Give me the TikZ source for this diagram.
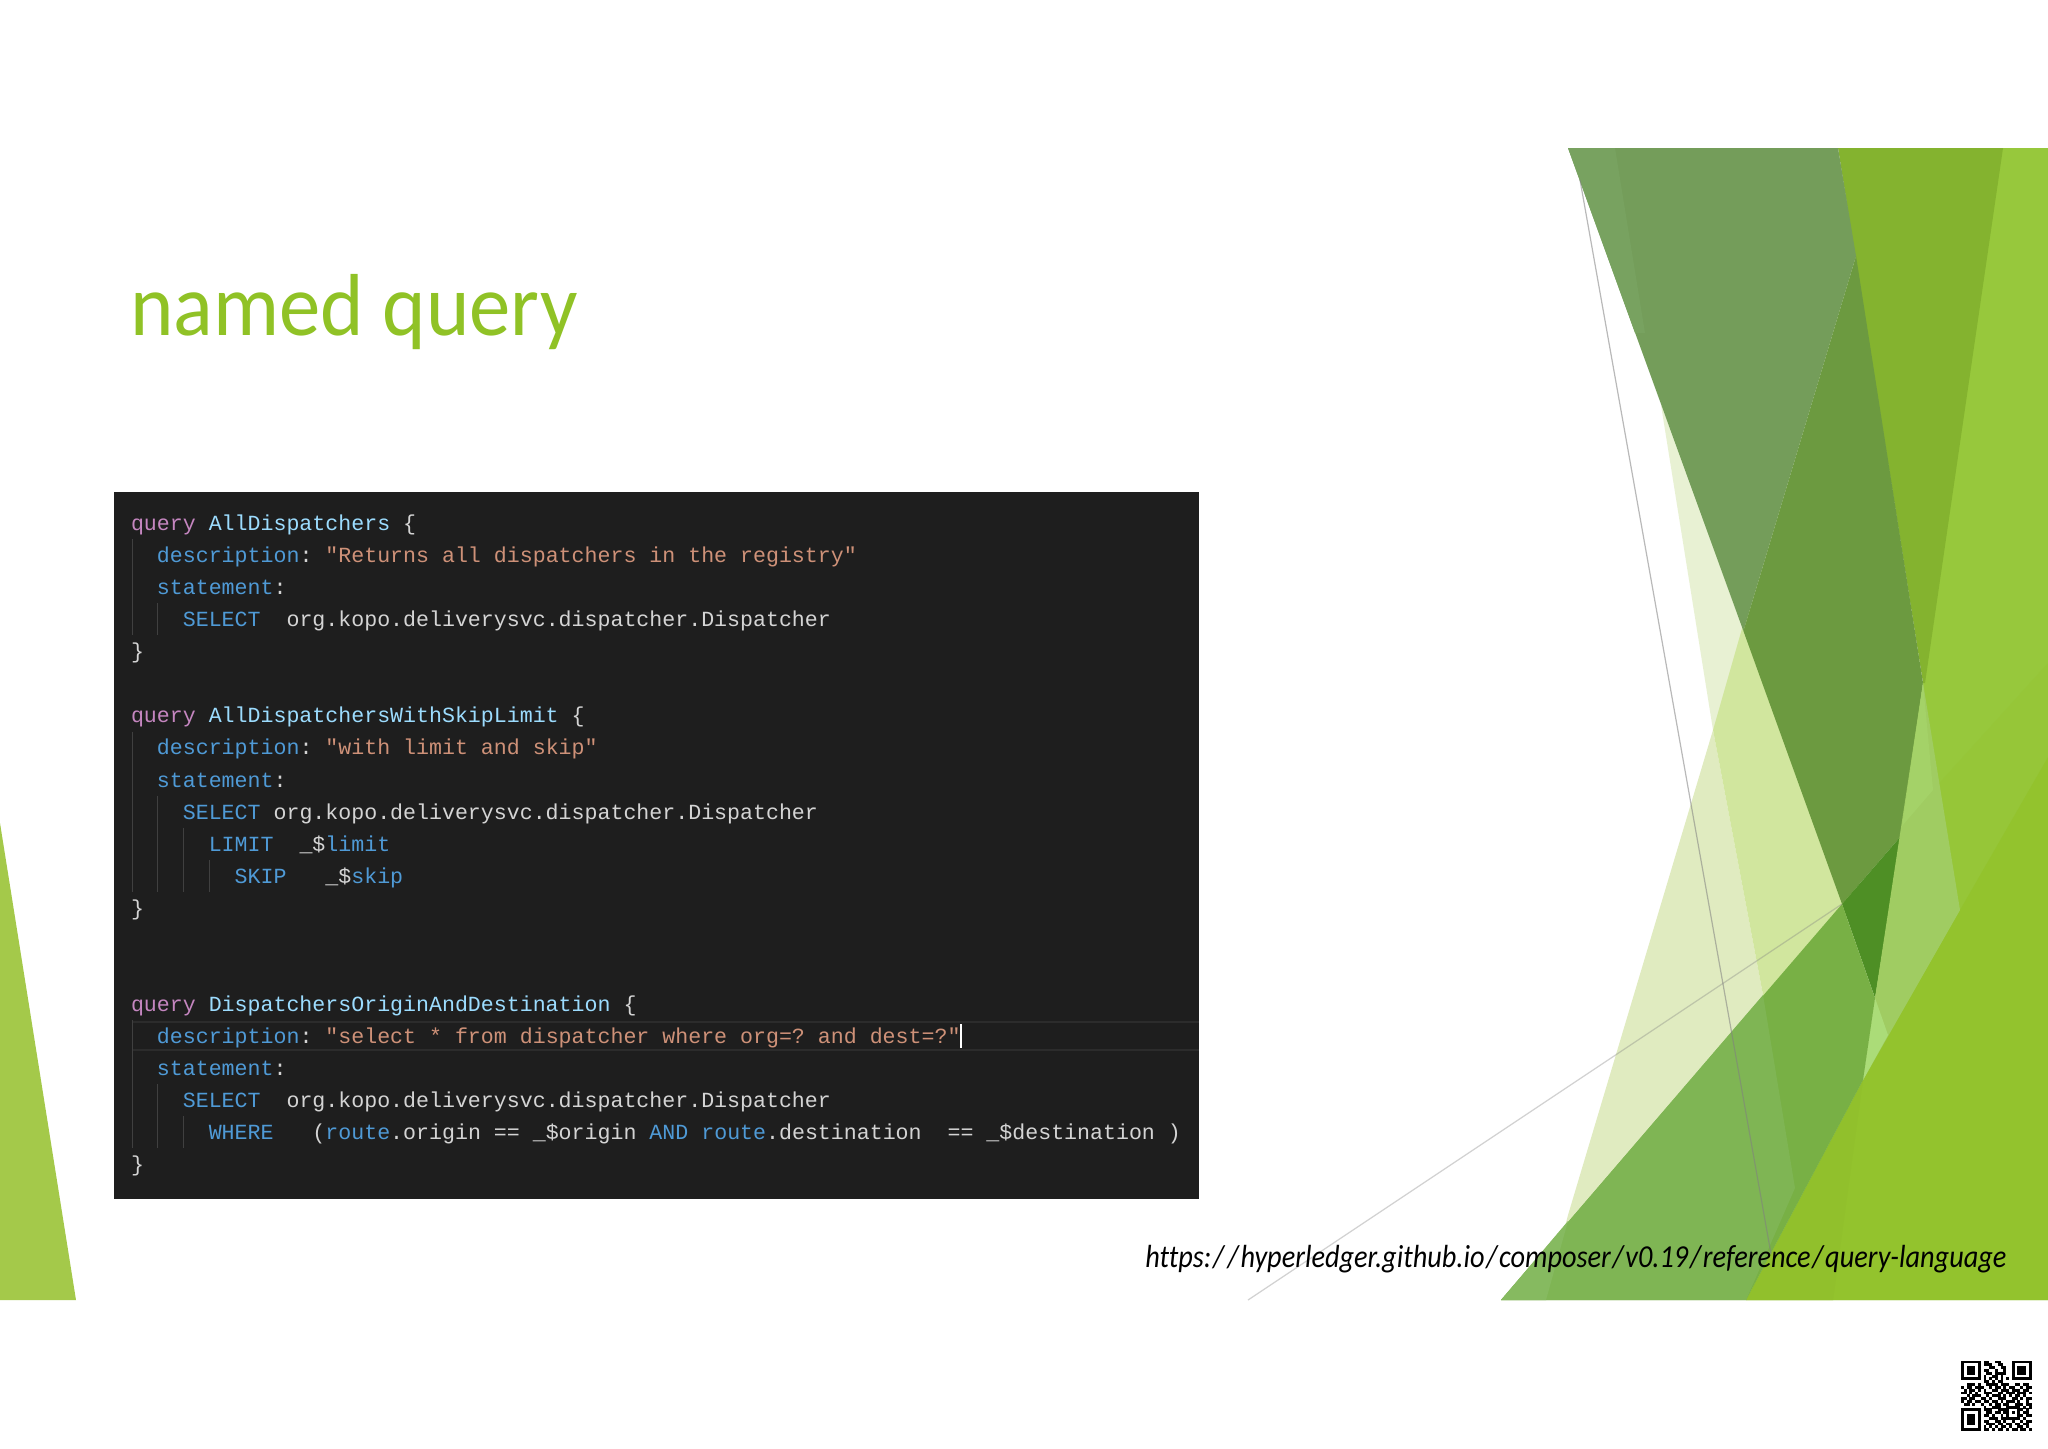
\documentclass[tikz,border=0pt]{standalone}
\usepackage{fontspec}
\setmainfont{Carlito}[Ligatures=NoCommon]
\setmonofont{Liberation Mono}
\definecolor{cQ}{HTML}{C586C0}
\definecolor{cN}{HTML}{9CDCFE}
\definecolor{cP}{HTML}{4F9AD6}
\definecolor{cS}{HTML}{CE9178}
\definecolor{cT}{HTML}{D4D4D4}
\definecolor{panel}{HTML}{1E1E1E}
\definecolor{guide}{HTML}{404040}
\definecolor{hl}{HTML}{2C2C2C}
\definecolor{titlegreen}{HTML}{90C226}
\newcommand{\Qq}[1]{\textcolor{cQ}{#1}}
\newcommand{\Nn}[1]{\textcolor{cN}{#1}}
\newcommand{\Pp}[1]{\textcolor{cP}{#1}}
\newcommand{\Ss}[1]{\textcolor{cS}{#1}}
\newcommand{\Sl}{\kern1pt/\kern1pt}
\newcommand{\cl}[2]{\node[codeline] (l#1) at (130.6,{530.6+32.05*#1}) {#2};}
\newcommand{\gd}[3]{\draw[guide,line width=.5pt] ({132+25.74*#1},{507+32.07*#2}) -- ({132+25.74*#1},{539+32.07*#3});}
\newcount\qrx
\def\qrscan#1{\ifx#1;\else\ifx#11\fill ({1961+2.82*\the\qrx},{1360.5+2.82*\qry}) rectangle ++(2.9,2.9);\fi\advance\qrx by 1 \expandafter\qrscan\fi}
\tikzset{
  codeline/.style={anchor=base west,inner sep=0pt,text=cT,font=\ttfamily\fontsize{10.8}{12}\selectfont},
  grayline/.style={line width=.6pt,draw=gray,opacity=.55},
}
\begin{document}
\begin{tikzpicture}[x=0.5pt,y=-0.5pt]
\useasboundingbox (0,0) rectangle (2048,1448);
\fill[white] (0,0) rectangle (2048,1448);
% left wedge
\fill[fill={rgb,255:red,164;green,201;blue,74}] (0,823) -- (76,1300) -- (0,1300) -- cycle;
% pale shapes
\fill[fill={rgb,255:red,232;green,241;blue,211}] (1661,405) -- (1760,625) -- (1713,730) -- cycle;
\fill[fill={rgb,255:red,224;green,235;blue,192}] (1713,730) -- (1763,995) -- (1600,1250) -- (1546,1300) -- (1568,1215) -- cycle;
\fill[fill={rgb,255:red,209;green,230;blue,158}] (1743,625) -- (1780,650) -- (1860,900) -- (1770,1005) -- (1763,995) -- (1713,730) -- cycle;
% right lime
\fill[fill={rgb,255:red,151;green,200;blue,60}] (2001,148) -- (2048,148) -- (2048,1300) -- (1746,1300) -- (1863,1080) -- (1875,998) -- (1923,683) -- cycle;
\fill[fill={rgb,255:red,150;green,198;blue,56}] (2048,663) -- (1933,790) -- (1960,910) -- (2048,757) -- cycle;
\fill[fill={rgb,255:red,147;green,195;blue,45}] (2048,757) -- (1960,910) -- (1863,1080) -- (1746,1300) -- (2048,1300) -- cycle;
\fill[fill={rgb,255:red,145;green,192;blue,44}] (1833,1300) -- (1863,1080) -- (1746,1300) -- cycle;
% bright band
\fill[fill={rgb,255:red,132;green,179;blue,47}] (1838,148) -- (2003,148) -- (1925,683) -- (1923,683) -- cycle;
% dark
\fill[fill={rgb,255:red,116;green,157;blue,90}] (1568,148) -- (1838,148) -- (1856,256) -- (1743.4,631) -- cycle;
\fill[fill={rgb,255:red,120;green,162;blue,96}] (1568,148) -- (1615,148) -- (1645,333) -- (1635,333) -- cycle;
\fill[fill={rgb,255:red,108;green,154;blue,64}] (1743.4,631) -- (1856,256) -- (1923,683) -- (1901,836) -- (1842,904) -- cycle;
\fill[fill={rgb,255:red,78;green,143;blue,37}] (1842,904) -- (1901,836) -- (1875,998) -- cycle;
% light band
\fill[fill={rgb,255:red,160;green,204;blue,98}] (1923,683) -- (1960,910) -- (1863,1080) -- (1875,998) -- cycle;
\fill[fill={rgb,255:red,164;green,210;blue,104}] (1923,683) -- (1933,790) -- (1902,826) -- cycle;
\fill[fill={rgb,255:red,171;green,220;blue,120}] (1875,998) -- (1888,1035) -- (1863,1080) -- cycle;
% mid green
\fill[fill={rgb,255:red,120;green,176;blue,69}] (1501,1300) -- (1842,904) -- (1875,998) -- (1863,1080) -- (1746,1300) -- cycle;
\fill[fill={rgb,255:red,127;green,181;blue,84}] (1501,1300) -- (1763,995) -- (1795,1188) -- (1746,1300) -- cycle;
\fill[fill={rgb,255:red,134;green,186;blue,96}] (1501,1300) -- (1568,1221) -- (1546,1300) -- cycle;
% thin lines
\coordinate (la) at (1580,180);
\coordinate (lb) at (1771,1254);
\coordinate (lc) at (1248,1300);
\coordinate (ld) at (1842,904);
\draw[grayline] (la) -- (lb);
\draw[grayline,opacity=.35] (lc) -- (ld);
% title
\node[anchor=base west,inner sep=0pt,text=titlegreen,font=\fontsize{44}{50}\selectfont] (title) at (130,335) {\scalebox{.94}[1]{named query}};
% code panel
\fill[panel] (114,492) rectangle (1199,1198.5);
\draw[hl,line width=.6pt] (132,1022) -- (1199,1022) (132,1050) -- (1199,1050);
\gd{0}{1}{3}\gd{1}{3}{3}
\gd{0}{7}{11}\gd{1}{9}{11}\gd{2}{10}{11}\gd{3}{11}{11}
\gd{0}{16}{19}\gd{1}{18}{19}\gd{2}{19}{19}
\cl{0}{\Qq{query} \Nn{AllDispatchers} \{}
\cl{1}{~~\Pp{description}: \Ss{"Returns all dispatchers in the registry"}}
\cl{2}{~~\Pp{statement}:}
\cl{3}{~~~~\Pp{SELECT}~~org.kopo.deliverysvc.dispatcher.Dispatcher}
\cl{4}{\}}
\cl{6}{\Qq{query} \Nn{AllDispatchersWithSkipLimit} \{}
\cl{7}{~~\Pp{description}: \Ss{"with limit and skip"}}
\cl{8}{~~\Pp{statement}:}
\cl{9}{~~~~\Pp{SELECT} org.kopo.deliverysvc.dispatcher.Dispatcher}
\cl{10}{~~~~~~\Pp{LIMIT}~~\_\$\Pp{limit}}
\cl{11}{~~~~~~~~\Pp{SKIP}~~~\_\$\Pp{skip}}
\cl{12}{\}}
\cl{15}{\Qq{query} \Nn{DispatchersOriginAndDestination} \{}
\cl{16}{~~\Pp{description}: \Ss{"select * from dispatcher where org=? and dest=?"}}
\cl{17}{~~\Pp{statement}:}
\cl{18}{~~~~\Pp{SELECT}~~org.kopo.deliverysvc.dispatcher.Dispatcher}
\cl{19}{~~~~~~\Pp{WHERE}~~~(\Pp{route}.origin == \_\$origin \Pp{AND} \Pp{route}.destination~~== \_\$destination )}
\cl{20}{\}}
\draw[white,line width=1.2pt] (l16.south east |- 0,1024) -- (l16.south east |- 0,1048);
% url
\node[anchor=base west,inner sep=0pt,text=black,font=\itshape\fontsize{16}{20}\selectfont] (url) at (1145,1267) {\scalebox{.885}[1]{https:\Sl\Sl hyperledger.github.io\Sl composer\Sl v0.19\Sl reference\Sl query-language}};
% qr
\foreach \qry/\qrrow in {0/1111111011001100001111111,
1/1000001011100110001000001,
2/1011101000110011001011101,
3/1011101011001001001011101,
4/1011101001101111001011101,
5/1000001010011010001000001,
6/1111111010101010101111111,
7/0000000011010110000000000,
8/0011101001111011100110110,
9/1011011100101101011001011,
10/0101101010011011101110110,
11/1101010011100110111011101,
12/0010111001011101010110100,
13/1101100110100111001101011,
14/1011011011011010111010010,
15/0110100100101101100111011,
16/0000000010011100111110101,
17/1111111011100111100011010,
18/1000001001101101101010110,
19/1011101011010010100011011,
20/1011101000111011111110100,
21/1011101011001101001001011,
22/1011101001110110110110110,
23/1000001010101011010011010,
24/1111111011010110101101101}{
  \qrx=0 \expandafter\qrscan\qrrow;
}
\end{tikzpicture}
\end{document}
